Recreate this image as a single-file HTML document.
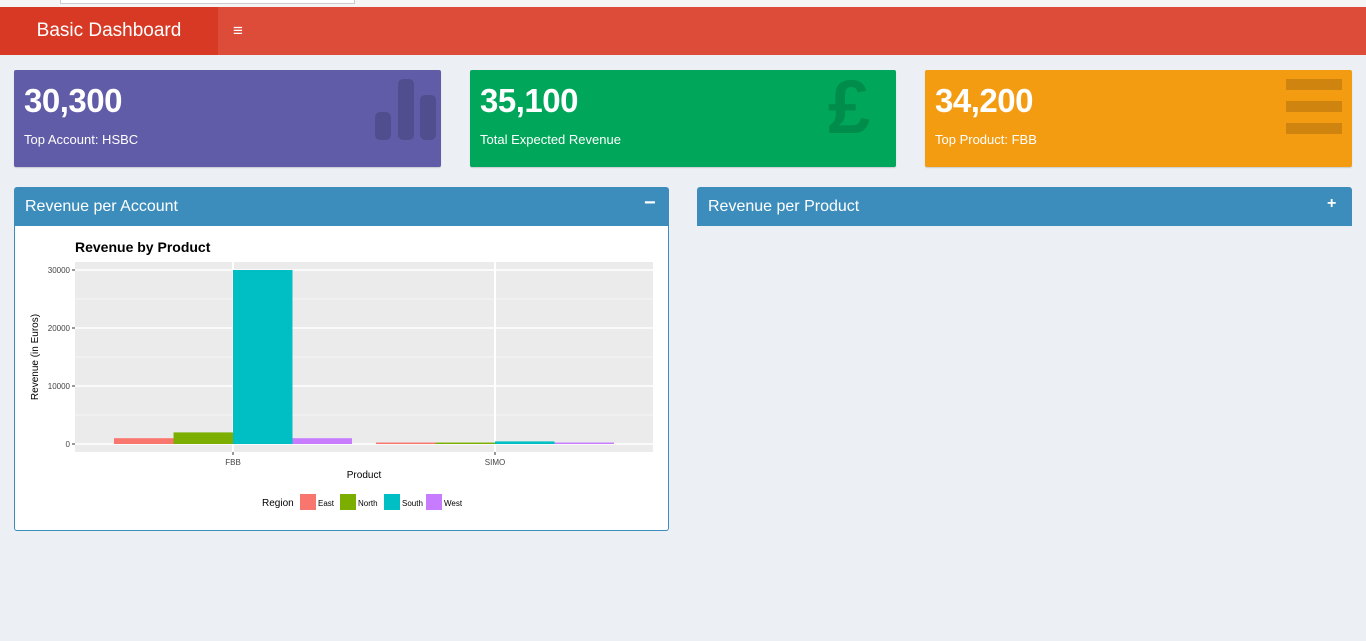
<!DOCTYPE html>
<html><head><meta charset="utf-8"><style>
body{margin:0;width:1366px;height:641px;background:#ecf0f5;font-family:"Liberation Sans",sans-serif;position:relative;overflow:hidden}
.abs{position:absolute}
.vb{position:absolute;top:70px;height:97px;color:#fff;border-radius:2px;box-shadow:0 1px 1px rgba(0,0,0,.15)}
.vb h3{position:absolute;left:10px;top:12px;margin:0;font-size:33px;font-weight:bold;letter-spacing:-0.5px}
.vb p{position:absolute;left:10px;top:62px;margin:0;font-size:13px}
.bh{position:absolute;top:187px;height:39px;background:#3c8dbc;color:#fff;font-size:16px;border-radius:3px 3px 0 0}
.bh span{position:absolute;left:11px;top:11px}
</style></head><body>
<div class="abs" style="left:0;top:0;width:1366px;height:7px;background:#f5f5f5;border-bottom:1px solid #999"></div>
<div class="abs" style="left:60px;top:0;width:293px;height:3px;border:1px solid #ccc;border-top:none;background:#fff"></div>
<div class="abs" style="left:0;top:7px;width:1366px;height:48px;background:#dd4b39"></div>
<div class="abs" style="left:0;top:7px;width:218px;height:48px;background:#d73925;color:#fff;font-size:19px;line-height:47px;text-align:center">Basic Dashboard</div>
<div class="abs" style="left:233px;top:21px;color:#fff;font-size:17px;font-weight:bold">≡</div>

<div class="vb" style="left:14px;width:427px;background:#605ca8">
<h3>30,300</h3><p>Top Account: HSBC</p>
<svg class="abs" style="left:360px;top:8px" width="65" height="65"><g fill="rgba(0,0,0,.15)"><rect x="1" y="34" width="16" height="28" rx="5"/><rect x="24" y="1" width="16" height="61" rx="5"/><rect x="46" y="17" width="16" height="45" rx="5"/></g></svg>
</div>
<div class="vb" style="left:470px;width:426px;background:#00a65a">
<h3>35,100</h3><p>Total Expected Revenue</p>
<div class="abs" style="left:358px;top:-6px;font-size:76px;font-weight:bold;color:rgba(0,0,0,.15)">£</div>
</div>
<div class="vb" style="left:925px;width:427px;background:#f39c12">
<h3>34,200</h3><p>Top Product: FBB</p>
<svg class="abs" style="left:360px;top:8px" width="58" height="58"><g fill="rgba(0,0,0,.15)"><rect x="1" y="1" width="56" height="11"/><rect x="1" y="23" width="56" height="11"/><rect x="1" y="45" width="56" height="11"/></g></svg>
</div>

<div class="bh" style="left:14px;width:655px"><span>Revenue per Account</span><span style="left:630px;top:5px;font-size:20px;font-weight:bold">−</span></div>
<div class="abs" style="left:14px;top:226px;width:653px;height:304px;background:#fff;border:1px solid #3c8dbc;border-top:none;border-radius:0 0 3px 3px"></div>
<div class="bh" style="left:697px;width:655px"><span>Revenue per Product</span><span style="left:630px;top:8px;font-size:16px;font-weight:bold">+</span></div>

<svg class="abs" style="left:0;top:0" width="1366" height="641" id="chart" font-family="Liberation Sans, sans-serif"></svg>
<script>
const categories=["FBB","SIMO"];
const regions=["East","North","South","West"];
const colors=["#f8766d","#7cae00","#00bfc4","#c77cff"];
const east=[1000,250];
const north=[2000,250];
const south=[30000,450];
const west=[1000,250];
const yTicks=[0,10000,20000,30000];
const series=[east,north,south,west];
const svg=document.getElementById('chart');
const NS='http://www.w3.org/2000/svg';
function mk(t,a,txt){const e=document.createElementNS(NS,t);for(const k in a)e.setAttribute(k,a[k]);if(txt!=null)e.textContent=txt;svg.appendChild(e);return e;}
const px0=75,px1=653,py0=262,py1=452;
const y=v=>444-v*(174/30000);
const xc=i=>233+i*262;
const bw=59.5;
let e=mk('rect',{x:px0,y:py0,width:px1-px0,height:py1-py0,fill:'#ebebeb'});


for(let v=5000;v<=30000;v+=10000){mk('line',{x1:px0,x2:px1,y1:y(v),y2:y(v),stroke:'#f5f5f5','stroke-width':1});}
yTicks.forEach(v=>{
 e=mk('line',{x1:px0,x2:px1,y1:y(v),y2:y(v),stroke:'#fff','stroke-width':1.5});
 
 
 mk('line',{x1:px0-3,x2:px0,y1:y(v),y2:y(v),stroke:'#333'});
 e=mk('text',{x:px0-5,y:y(v)+3,'text-anchor':'end','font-size':8,fill:'#444'},String(v));
 
 
});
categories.forEach((c,i)=>{
 mk('line',{x1:xc(i),x2:xc(i),y1:py0,y2:py1,stroke:'#fff','stroke-width':2});
 mk('line',{x1:xc(i),x2:xc(i),y1:py1,y2:py1+3,stroke:'#333'});
 e=mk('text',{x:xc(i),y:py1+13,'text-anchor':'middle','font-size':8,fill:'#444'},c);
 
 
 series.forEach((s,j)=>{
  const x=xc(i)+(j-2)*bw;
  e=mk('rect',{x:x,y:y(s[i]),width:bw,height:y(0)-y(s[i]),fill:colors[j]});
  
  
 });
});
e=mk('text',{x:75,y:252,'font-size':14,'font-weight':'bold',fill:'#000'},'Revenue by Product');


e=mk('text',{x:364,y:478,'text-anchor':'middle','font-size':10,fill:'#000'},'Product');


e=mk('text',{x:0,y:0,'text-anchor':'middle','font-size':10,fill:'#000',transform:'translate(38,357) rotate(-90)'},'Revenue (in Euros)');


e=mk('text',{x:262,y:506,'font-size':10,fill:'#000'},'Region');


const lx=[300,340,384,426];
regions.forEach((r,j)=>{
 e=mk('rect',{x:lx[j],y:494,width:16,height:16,fill:colors[j]});
 
 
 e=mk('text',{x:lx[j]+18,y:506,'font-size':8,fill:'#000'},r);
 
 
});
</script>
</body></html>
